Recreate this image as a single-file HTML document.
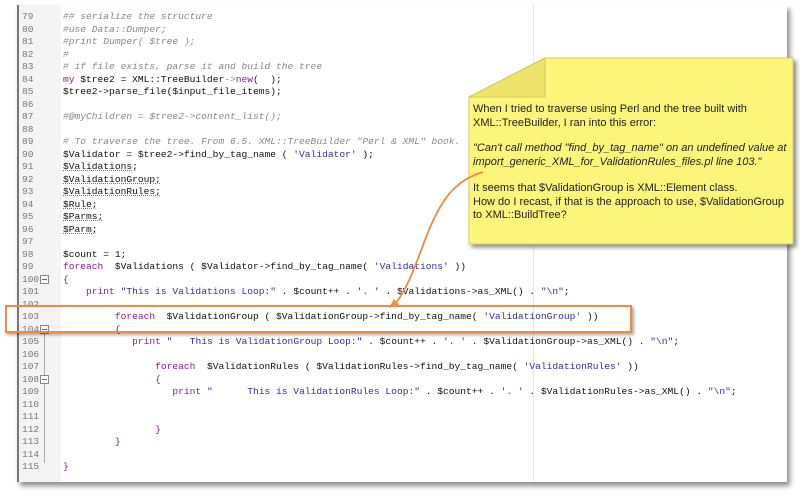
<!DOCTYPE html>
<html><head><meta charset="utf-8"><style>
body{margin:0;width:800px;height:497px;background:#fff;position:relative;overflow:hidden;font-family:"Liberation Mono",monospace}
.panel{position:absolute;left:17px;top:5px;width:768px;height:477px;background:#fff;border-left:2px solid #777;box-shadow:3px 4px 5px rgba(0,0,0,.45)}
.gut{position:absolute;left:19px;top:5px;width:42px;height:477px;background:#f4f4f4}
.ln{position:absolute;left:22px;font-size:9.5px;color:#777;height:12px;line-height:12px}
.cd{position:absolute;left:63px;font-size:9.6px;white-space:pre;height:12px;line-height:12px;color:#111}
.c{color:#888;font-style:italic}.k{color:#8b1c8b}.s{color:#3030a0}.o{color:#888}
.sq{position:absolute;left:40px;width:7px;height:7px;border:1px solid #888;background:#fff}
.sq:after{content:"";position:absolute;left:1px;top:3px;width:5px;height:1px;background:#666}
.w{text-decoration:underline dotted #3a3;text-decoration-thickness:1px}
.note{position:absolute;font-family:"Liberation Sans",sans-serif;font-size:11px;color:#222;line-height:13.7px;white-space:pre}
</style></head><body>
<div class="panel"></div>
<div class="gut"></div>
<div style="position:absolute;left:533px;top:5px;width:1px;height:477px;background:#e6e6e6"></div>
<div style="position:absolute;left:44px;top:333px;width:0;height:130px;border-left:1px solid #aaa"></div>

<div class="ln" style="top:11px">79</div><div class="cd c" style="top:11px">## serialize the structure</div>
<div class="ln" style="top:23.5px">80</div><div class="cd c" style="top:23.5px">#use Data::Dumper;</div>
<div class="ln" style="top:36px">81</div><div class="cd c" style="top:36px">#print Dumper( $tree );</div>
<div class="ln" style="top:48.5px">82</div><div class="cd c" style="top:48.5px">#</div>
<div class="ln" style="top:61px">83</div><div class="cd c" style="top:61px"># if file exists, parse it and build the tree</div>
<div class="ln" style="top:73.5px">84</div><div class="cd" style="top:73.5px"><span class="k">my</span> $tree2 = XML::TreeBuilder<span class="o">-></span><span class="k">new</span>(  );</div>
<div class="ln" style="top:86px">85</div><div class="cd" style="top:86px">$tree2->parse_file($input_file_items);</div>
<div class="ln" style="top:98.5px">86</div>
<div class="ln" style="top:111px">87</div><div class="cd c" style="top:111px">#@myChildren = $tree2->content_list();</div>
<div class="ln" style="top:123.5px">88</div>
<div class="ln" style="top:136px">89</div><div class="cd c" style="top:136px"># To traverse the tree. From 6.5. XML::TreeBuilder "Perl &amp; XML" book.</div>
<div class="ln" style="top:148.5px">90</div><div class="cd" style="top:148.5px">$Validator = $tree2->find_by_tag_name ( <span class="s">'Validator'</span> );</div>
<div class="ln" style="top:161px">91</div><div class="cd" style="top:161px"><span class="w">$Validations;</span></div>
<div class="ln" style="top:173.5px">92</div><div class="cd" style="top:173.5px"><span class="w">$ValidationGroup;</span></div>
<div class="ln" style="top:186px">93</div><div class="cd" style="top:186px"><span class="w">$ValidationRules;</span></div>
<div class="ln" style="top:198.5px">94</div><div class="cd" style="top:198.5px"><span class="w">$Rule;</span></div>
<div class="ln" style="top:211px">95</div><div class="cd" style="top:211px"><span class="w">$Parms;</span></div>
<div class="ln" style="top:223.5px">96</div><div class="cd" style="top:223.5px"><span class="w">$Parm;</span></div>
<div class="ln" style="top:236px">97</div>
<div class="ln" style="top:248.5px">98</div><div class="cd" style="top:248.5px">$count = 1;</div>
<div class="ln" style="top:261px">99</div><div class="cd" style="top:261px"><span class="k">foreach</span>  $Validations ( $Validator->find_by_tag_name( <span class="s">'Validations'</span> ))</div>
<div class="ln" style="top:273.5px">100</div><div class="sq" style="top:275px"></div><div class="cd" style="top:273.5px"><span class="k">{</span></div>
<div class="ln" style="top:286px">101</div><div class="cd" style="top:286px">    <span class="k">print</span> <span class="s">"This is Validations Loop:"</span> . $count++ . <span class="s">'. '</span> . $Validations->as_XML() . <span class="s">"\n"</span>;</div>
<div class="ln" style="top:298.5px">102</div>
<div class="ln" style="top:311px">103</div><div class="cd" style="top:311px">         <span class="k">foreach</span>  $ValidationGroup ( $ValidationGroup->find_by_tag_name( <span class="s">'ValidationGroup'</span> ))</div>
<div class="ln" style="top:323.5px">104</div><div class="sq" style="top:325px"></div><div class="cd" style="top:323.5px">         <span class="k">{</span></div>
<div class="ln" style="top:336px">105</div><div class="cd" style="top:336px">            <span class="k">print</span> <span class="s">"   This is ValidationGroup Loop:"</span> . $count++ . <span class="s">'. '</span> . $ValidationGroup->as_XML() . <span class="s">"\n"</span>;</div>
<div class="ln" style="top:348.5px">106</div>
<div class="ln" style="top:361px">107</div><div class="cd" style="top:361px">                <span class="k">foreach</span>  $ValidationRules ( $ValidationRules->find_by_tag_name( <span class="s">'ValidationRules'</span> ))</div>
<div class="ln" style="top:373.5px">108</div><div class="sq" style="top:375px"></div><div class="cd" style="top:373.5px">                <span class="k">{</span></div>
<div class="ln" style="top:386px">109</div><div class="cd" style="top:386px">                   <span class="k">print</span> <span class="s">"      This is ValidationRules Loop:"</span> . $count++ . <span class="s">'. '</span> . $ValidationRules->as_XML() . <span class="s">"\n"</span>;</div>
<div class="ln" style="top:398.5px">110</div>
<div class="ln" style="top:411px">111</div>
<div class="ln" style="top:423.5px">112</div><div class="cd" style="top:423.5px">                <span class="k">}</span></div>
<div class="ln" style="top:436px">113</div><div class="cd" style="top:436px">         <span class="k">}</span></div>
<div class="ln" style="top:448.5px">114</div>
<div class="ln" style="top:461px">115</div><div class="cd" style="top:461px"><span class="k">}</span></div>

<div style="position:absolute;left:5px;top:305px;width:623px;height:24px;border:2px solid #f08a3c;box-shadow:2px 2px 3px rgba(0,0,0,.35)"></div>

<svg style="position:absolute;left:0;top:0" width="800" height="497">
<defs><filter id="sh"><feDropShadow dx="3" dy="3" stdDeviation="2" flood-opacity=".45"/></filter></defs>
<polygon points="545,58 793,58 793,244 469,244 469,97" fill="#fbf57a" stroke="#d8d060" filter="url(#sh)"/>
<polygon points="545,58 545,97 469,97" fill="#eee46a" stroke="#d0c860"/>
<path d="M483,172 C455,180 440,200 425,240 C412,275 405,292 395,304" fill="none" stroke="#f08a3c" stroke-width="1.8"/>
<polygon points="389,308 399,305 394,299" fill="#f08a3c"/>
</svg>
<div class="note" style="left:473px;top:103px">When I tried to traverse using Perl and the tree built with
XML::TreeBuilder, I ran into this error:</div>
<div class="note" style="left:473px;top:142px;font-style:italic">"Can't call method "find_by_tag_name" on an undefined value at
import_generic_XML_for_ValidationRules_files.pl line 103."</div>
<div class="note" style="left:473px;top:182px">It seems that $ValidationGroup is XML::Element class.
How do I recast, if that is the approach to use, $ValidationGroup
to XML::BuildTree?</div>
</body></html>
